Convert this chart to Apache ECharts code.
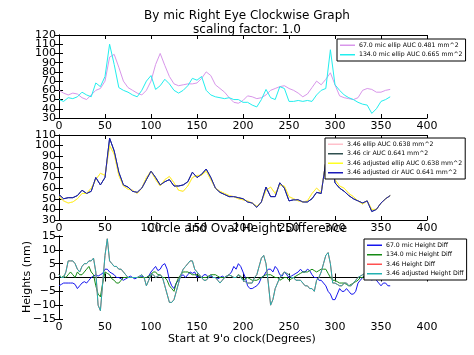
<!DOCTYPE html>
<html>
<head>
<meta charset="utf-8">
<script src="https://cdn.jsdelivr.net/npm/echarts@6/dist/echarts.min.js"></script>
<style>html,body{margin:0;padding:0;background:#fff}#c{width:474px;height:355px}</style>
</head>
<body>
<div id="c"></div>
<script>
const degrees = [0,5,10,15,20,25,30,35,40,45,50,55,60,65,70,75,80,85,90,95,100,105,110,115,120,125,130,135,140,145,150,155,160,165,170,175,180,185,190,195,200,205,210,215,220,225,230,235,240,245,250,255,260,265,270,275,280,285,290,295,300,305,310,315,320,325,330,335,340,345,350,355,360];
const fineDegrees = [0,2.5,5,7.5,10,12.5,15,17.5,20,22.5,25,27.5,30,32.5,35,37.5,40,42.5,45,47.5,50,52.5,55,57.5,60,62.5,65,67.5,70,72.5,75,77.5,80,82.5,85,87.5,90,92.5,95,97.5,100,102.5,105,107.5,110,112.5,115,117.5,120,122.5,125,127.5,130,132.5,135,137.5,140,142.5,145,147.5,150,152.5,155,157.5,160,162.5,165,167.5,170,172.5,175,177.5,180,182.5,185,187.5,190,192.5,195,197.5,200,202.5,205,207.5,210,212.5,215,217.5,220,222.5,225,227.5,230,232.5,235,237.5,240,242.5,245,247.5,250,252.5,255,257.5,260,262.5,265,267.5,270,272.5,275,277.5,280,282.5,285,287.5,290,292.5,295,297.5,300,302.5,305,307.5,310,312.5,315,317.5,320,322.5,325,327.5,330,332.5,335,337.5,340,342.5,345,347.5,350,352.5,355,357.5,360];

// tick labels
const xTicks = [0,50,100,150,200,250,300,350,400];
const yTicksTop = [30,40,50,60,70,80,90,100,110,120];
const yTicksMid = [30,40,50,60,70,80,90,100,110];
const yTicksBot = [-15,-10,-5,0,5,10,15];

// Top: ellipse heights by mic
const mic67Ellip = [60,57,55,57,56,52,50,55,60,62,70,96,99,85,70,63,60,57,55,60,70,88,100,87,75,67,65,66,67,67,68,73,80,76,66,62,58,52,47,46,49,54,53,51,52,55,60,62,64,65,62,60,57,53,56,63,70,66,72,79,66,54,52,51,50,52,60,62,61,58,58,60,61];
const mic134Ellip = [50,48,52,51,53,58,55,53,68,64,75,110,88,63,60,58,55,53,60,70,76,61,65,72,67,60,57,60,65,73,71,75,60,55,53,52,51,52,50,50,47,47,44,42,50,61,52,50,64,62,48,48,49,48,49,48,55,60,62,104,66,60,55,52,50,47,45,44,35,40,48,50,53];

// Middle: 3.46 ellip / cir
const adjCir = [54,50,51,51,53,58,55,57,70,63,70,107,95,75,63,61,57,56,60,68,76,70,63,66,68,62,62,63,66,75,70,73,78,70,60,56,54,52,52,51,50,47,46,42,47,61,52,52,65,60,48,49,49,47,47,50,56,55,85,102,65,60,57,53,50,48,46,48,38,40,46,50,53];
const adjEllip = [52,48,46,47,50,55,55,60,68,74,72,100,92,72,62,59,58,55,60,70,76,68,62,68,71,65,58,57,62,70,72,72,76,68,60,57,55,53,52,50,49,48,46,43,47,58,61,55,63,62,52,50,48,47,48,55,60,56,85,100,68,62,60,55,52,48,45,48,40,40,46,50,53];
const ellip346 = adjEllip;   // identical AUC, hidden under the adjusted curve
const cir346 = adjCir;

// Bottom: height differences (2.5 degree steps)
const diff67 = [-3,-2.5,-2,-2,-2,-2,-2,-2.5,-4,-3,
  -2,-1.5,-2,-1,0,0.5,1,0.5,1,1.5,
  3,3,2,1.5,1,0,0,-0.5,-1,-0.5,
  0,0.5,0,-0.5,0,0,0.5,0,0,0.5,
  2,3,4,2.5,3,4.5,5,3,-1,-3,
  -4,-2,-1,0.5,1,0,1,2,1.5,2,
  0,0.5,0,1,1,0,0.5,0,0,-0.5,
  0,0.5,0,0.5,1,2,4,3,5,4,
  2,0,-3,-4,-4,-3.5,-3,-2,0,0.5,
  2,3,3,2,4,3,1,0.5,2,1,
  0,0.5,1,1.5,2,3,2,2,3,2.5,
  1,0,0,-1,-1,-2,-3,-5,-6,-8,
  -8,-6,-4,-5,-5,-4,-5,-6,-6,-5,
  -2,-1,0,1,1,0,-1,0,-1,-2,
  -3,-2,-2,-3,-3];
const diff134 = [1,0,0.5,0,1,2,1,0,2,1,
  1,2,3,4,2,1,-3,-6,-7,-2,
  2,1.5,1,-0.5,-1,-2,-2,-1,0,0,
  0,0,0,0,0,0,0,0,0,0.5,
  1,2,2,1,1,0,0,-1,-3,-4,
  -5,-2,0,1,2,2,2,1.5,1,1,
  1,0.5,0,0,0,0.5,1,1,1,0.5,
  0,0,0,0.5,1,0.5,0,0,1,0.5,
  -1,-0.5,0,-0.5,-1,-1,-1,-0.5,0,0.5,
  1,1,1,0.5,0,0,-1,-0.5,0,0,
  -1,-0.5,0,0.5,1,1.5,2,2,2,2.5,
  3,2.5,2,2.5,3,3,3,1.5,0,-1,
  -1,-1.5,-2,-2,-2,-2.5,-3,-2.5,-2,-1.5,
  -1,0,0,1,2,2,1,1,0,0.5,
  0,0,0,0.5,0];
const diffAdj346 = [1,0,0,2,6,6,6,5,3,2,
  4,5,5,6,6,7,2,-10,-12,-2,
  8,14,6,5,4,4,3,3,2,1,
  0,0,0,0,0,0.5,1,0,-3,-1,
  1,1,0,0.5,1,0,-3,-6,-9,-9,
  -8,-5,-2,1,3,4,5,6,6,3,
  2,1,0,-1,-1,0,1,0,0,-1,
  -2,-1,0,0.5,1,0.5,0,0,1,0,
  -1,-1.5,-2,-2,-2,0,1,4,7,8,
  5,-2,-10,-8,-4,-2,0,1,2,1.5,
  1,0,0,-1,-1,-1,-2,-3,-3,-4,
  -4,-5,-1,0,2,5,8,9,5,-2,
  -2,-2.5,-3,-3,-2,-2,-3,-3,-2,-1,
  0,0.5,1,1.5,2,2,1,1,0,0,
  0,0.5,1,0.5,0];
const diff346 = diffAdj346;

const FONT = 'DejaVu Sans';

const grids = [
  {left: 59, right: 47, top: 35, height: 83},
  {left: 59, right: 47, top: 135, height: 85},
  {left: 59, right: 47, top: 236, height: 83}
];
const yRanges = [[30,120,10],[30,110,10],[-15,15,5]];
const yTickSets = [yTicksTop, yTicksMid, yTicksBot];

const xAxes = [], yAxes = [];
grids.forEach((g, i) => {
  const line = {show: true, lineStyle: {color: '#000', width: 1}};
  const tick = {show: true, inside: true, length: 4, lineStyle: {color: '#000'}};
  const xl = {fontFamily: FONT, fontSize: 11, color: '#000', margin: 3, hideOverlap: false, customValues: xTicks};
  xAxes.push({type: 'value', gridIndex: i, min: 0, max: 400, interval: 50, position: 'bottom',
    axisLine: line, axisTick: tick, splitLine: {show: false}, axisLabel: xl});
  xAxes.push({type: 'value', gridIndex: i, min: 0, max: 400, interval: 50, position: 'top',
    axisLine: line, axisTick: tick, splitLine: {show: false}, axisLabel: {show: false}});
  const r = yRanges[i];
  yAxes.push({type: 'value', gridIndex: i, min: r[0], max: r[1], interval: r[2], position: 'left',
    axisLine: line, axisTick: tick, splitLine: {show: false}, axisLabel: {show: false}});
  yAxes.push({type: 'value', gridIndex: i, min: r[0], max: r[1], interval: r[2], position: 'right',
    axisLine: line, axisTick: tick, splitLine: {show: false}, axisLabel: {show: false}});
});

function mk(name, xs, vals, color, gi) {
  return {name, type: 'line', data: xs.map((d, i) => [d, vals[i]]), xAxisIndex: gi * 2, yAxisIndex: gi * 2,
    showSymbol: false, symbol: 'none', lineStyle: {color, width: 1}, itemStyle: {color},
    animation: false, z: 2};
}

const series = [
  mk('67.0 mic ellip AUC 0.481 mm^2', degrees, mic67Ellip, '#d896ea', 0),
  mk('134.0 mic ellip AUC 0.665 mm^2', degrees, mic134Ellip, '#22eeee', 0),
  mk('3.46 ellip AUC 0.638 mm^2', degrees, ellip346, '#ffc0cb', 1),
  mk('3.46 cir AUC 0.641 mm^2', degrees, cir346, '#2f4f4f', 1),
  mk('3.46 adjusted ellip AUC 0.638 mm^2', degrees, adjEllip, '#ffff22', 1),
  mk('3.46 adjusted cir AUC 0.641 mm^2', degrees, adjCir, '#1a1ab8', 1),
  mk('67.0 mic Height Diff', fineDegrees, diff67, '#1515ee', 2),
  mk('134.0 mic Height Diff', fineDegrees, diff134, '#158a15', 2),
  mk('3.46 Height Diff', fineDegrees, diff346, '#ff5050', 2),
  mk('3.46 adjusted Height Diff', fineDegrees, diffAdj346, '#22b0b0', 2)
];

function legend(names, left, top) {
  return {data: names, orient: 'vertical', left, top,
    backgroundColor: '#fff', borderColor: '#000', borderWidth: 1, borderRadius: 0,
    padding: [2, 3, 2, 3], itemGap: 1, itemWidth: 15, itemHeight: 1.5, icon: 'rect',
    textStyle: {fontFamily: FONT, fontSize: 6.2, color: '#000', lineHeight: 8.5, padding: [0, 0, 0, -1]},
    selectedMode: false, z: 10};
}

const baseGraphics = [
  {type: 'text', x: 242, y: 339, style: {text: "Start at 9'o clock(Degrees)", font: '11px "DejaVu Sans"', fill: '#000', align: 'center', verticalAlign: 'middle'}},
  {type: 'text', x: 27, y: 277, rotation: Math.PI / 2, style: {text: 'Heights (nm)', font: '11px "DejaVu Sans"', fill: '#000', align: 'center', verticalAlign: 'middle'}}
];

const chart = echarts.init(document.getElementById('c'), null, {renderer: 'canvas'});
chart.setOption({
  backgroundColor: '#fff',
  animation: false,
  title: [
    {text: 'By mic Right Eye Clockwise Graph\nscaling factor: 1.0', left: 242, top: 4, textAlign: 'center',
      textStyle: {fontFamily: FONT, fontSize: 12, fontWeight: 'normal', color: '#000', lineHeight: 14}},
    {text: 'Circle and Oval Height Difference', left: 242, top: 218, textAlign: 'center',
      textStyle: {fontFamily: FONT, fontSize: 12, fontWeight: 'normal', color: '#000'}}
  ],
  grid: grids,
  xAxis: xAxes,
  yAxis: yAxes,
  legend: [
    legend(series.slice(0, 2).map(s => s.name), 337, 39),
    legend(series.slice(2, 6).map(s => s.name), 325, 138),
    legend(series.slice(6, 10).map(s => s.name), 364, 239)
  ],
  graphic: baseGraphics,
  series
});

// y tick labels placed through each axis' own scale (matplotlib shows every one, even overlapping)
const yLabelGraphics = [];
yTickSets.forEach((ticks, gi) => {
  ticks.forEach(v => {
    const p = chart.convertToPixel({xAxisIndex: gi * 2, yAxisIndex: gi * 2}, [0, v]);
    yLabelGraphics.push({type: 'text', x: p[0] - 3, y: p[1], z: 5,
      style: {text: String(v).replace('-', '\u2212'), font: '11px "DejaVu Sans"', fill: '#000', align: 'right', verticalAlign: 'middle'}});
  });
});
chart.setOption({graphic: baseGraphics.concat(yLabelGraphics)});
</script>
</body>
</html>
